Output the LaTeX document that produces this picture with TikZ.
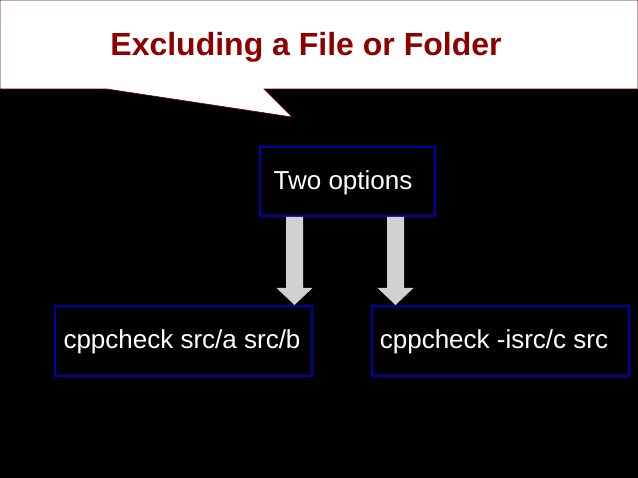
\documentclass[tikz,border=0pt]{standalone}
\usepackage{fontspec}
\setmainfont{Liberation Sans}
\begin{document}
\begin{tikzpicture}[x=1pt,y=-1pt,
  box/.style={draw=blue!70!black,line width=1.2pt,text=white,font=\fontsize{26}{30}\selectfont,inner sep=0pt},
  fat/.style={fill=black!18,draw=black!30}]
\fill[black] (0,0) rectangle (638,478);
\useasboundingbox (0,0) rectangle (638,478);
\draw[fill=white,draw=red!40!black,line width=0.6pt] (0,0) -- (638,0) -- (638,89) -- (264,89) -- (292,117) -- (107,89) -- (0,89) -- cycle;
\node[text=red!55!black,font=\bfseries\fontsize{32}{36}\selectfont] (title) at (306,47) {Excluding a File or Folder};
\node[box,minimum width=175,minimum height=69] (two) at (347.5,181.5) {};
\node[text=white,font=\fontsize{26}{30}\selectfont] at (343,183) {Two options};
\node[box,minimum width=257,minimum height=70] (a) at (183.5,341) {};
\node[text=white,font=\fontsize{26}{30}\selectfont] at (182,342) {cppcheck src/a src/b};
\node[box,minimum width=257,minimum height=70] (b) at (500.5,341) {};
\node[text=white,font=\fontsize{26}{30}\selectfont] at (494,342) {cppcheck -isrc/c src};
\foreach \cx in {294.5,395.5}{
  \fill[black!18] (\cx-8.5,217) -- (\cx+8.5,217) -- (\cx+8.5,288) -- (\cx+18,288) -- (\cx,305) -- (\cx-18,288) -- (\cx-8.5,288) -- cycle;
}
\end{tikzpicture}
\end{document}
